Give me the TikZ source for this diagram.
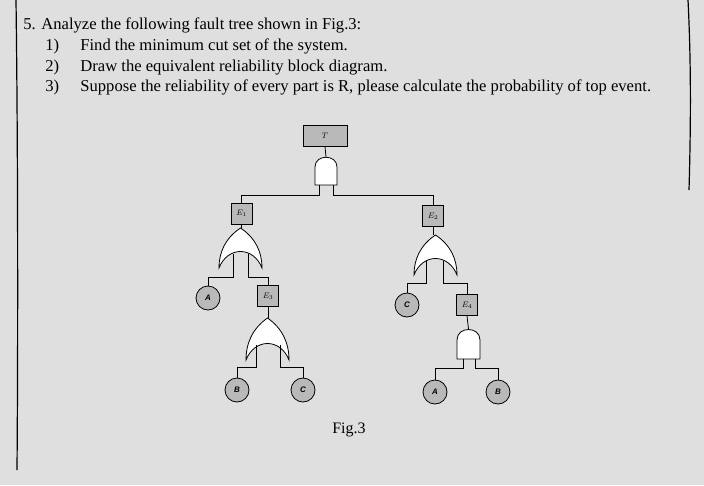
\documentclass[tikz,border=0pt]{standalone}
\usepackage{fontspec}
\setmainfont{Liberation Serif}
\newfontfamily\gatefont{Liberation Sans}
\begin{document}
\begin{tikzpicture}[x=1pt,y=-1pt,line width=0.8pt,
  evbox/.style={draw,fill=gray!55,minimum width=21pt,minimum height=21pt,inner sep=0pt,font=\gatefont\itshape\footnotesize},
  basic/.style={draw,circle,fill=gray!55,minimum size=24pt,inner sep=0pt,font=\gatefont\itshape\bfseries\footnotesize},
  txt/.style={anchor=base west,inner sep=0pt,font=\fontsize{16.6}{19}\selectfont}]
\fill[gray!25] (0,0) rectangle (704,485);
\useasboundingbox (0,0) rectangle (704,485);
\draw[line width=1.2pt] (16,0) .. controls (18,150) and (18,350) .. (17,470);
\draw[line width=1.2pt] (688,0) .. controls (691,60) and (691,120) .. (689,190);
\node[txt] (l1) at (23,29) {5. Analyze the following fault tree shown in Fig.3:};
\node[txt] (n1) at (45,50) {1)};
\node[txt] (t1) at (80,50) {Find the minimum cut set of the system.};
\node[txt] (n2) at (45,71) {2)};
\node[txt] (t2) at (80,71) {Draw the equivalent reliability block diagram.};
\node[txt] (n3) at (45,91) {3)};
\node[txt] (t3) at (80,91) {Suppose the reliability of every part is R, please calculate the probability of top event.};
% events
\node[evbox,minimum width=44pt] (T) at (325,135.5) {$T$};
\node[evbox] (E1) at (241.5,213.5) {$E_1$};
\node[evbox] (E2) at (433,216) {$E_2$};
\node[evbox] (E3) at (268,296) {$E_3$};
\node[evbox] (E4) at (467,305) {$E_4$};
\node[basic] (A1) at (208,298) {A};
\node[basic] (C1) at (407,305) {C};
\node[basic] (B1) at (237,390) {B};
\node[basic] (C2) at (303,390) {C};
\node[basic] (A2) at (435,392) {A};
\node[basic] (B2) at (498,392) {B};
\node[font=\fontsize{16}{18}\selectfont] (fig) at (349,430) {Fig.3};
% AND gate top
\coordinate (g0) at (326,157);
\draw[fill=white] (315,185) -- (315,167) .. controls (315,154) and (337,154) .. (337,167) -- (337,185) -- cycle;
\draw (T.south) -- (g0);
\draw (319,185) -- (319,195) -| (E1.north);
\draw (333,185) -- (333,195) -| (E2.north);
\newcommand{\orgate}[6]{%
  \draw[fill=white] (#6,#3) .. controls ({#1+0.15*(#2-#1)},{#3+0.25*(#4-#3)}) and (#1,{#3+0.6*(#4-#3)}) .. (#1,#4)
    .. controls ({#1+0.2*(#2-#1)},{#5}) and ({#2-0.2*(#2-#1)},{#5}) .. (#2,#4)
    .. controls (#2,{#3+0.6*(#4-#3)}) and ({#2-0.15*(#2-#1)},{#3+0.25*(#4-#3)}) .. (#6,#3) -- cycle;}
\orgate{219}{262}{228}{268}{246}{240.5}
\draw (E1.south) -- (241.5,228);
\draw (233,254) -- (233,277) -| (A1.north);
\draw (248,254) -- (248,277) -| (E3.north);
\orgate{414}{457}{235}{275}{253}{435.5}
\draw (E2.south) -- (433,235);
\draw (426,261) -- (426,283) -| (C1.north);
\draw (443,261) -- (443,283) -| (E4.north);
\orgate{246}{289}{318}{360}{338}{267.5}
\draw (E3.south) -- (268,318);
\draw (256,345) -- (256,367) -| (B1.north);
\draw (280,345) -- (280,367) -| (C2.north);
\draw[fill=white] (457,359) -- (457,340) .. controls (457,326) and (480,326) .. (480,340) -- (480,359) -- cycle;
\draw (E4.south) -- (468.5,329);
\draw (463,359) -- (463,368) -| (A2.north);
\draw (475,359) -- (475,368) -| (B2.north);
\end{tikzpicture}
\end{document}
